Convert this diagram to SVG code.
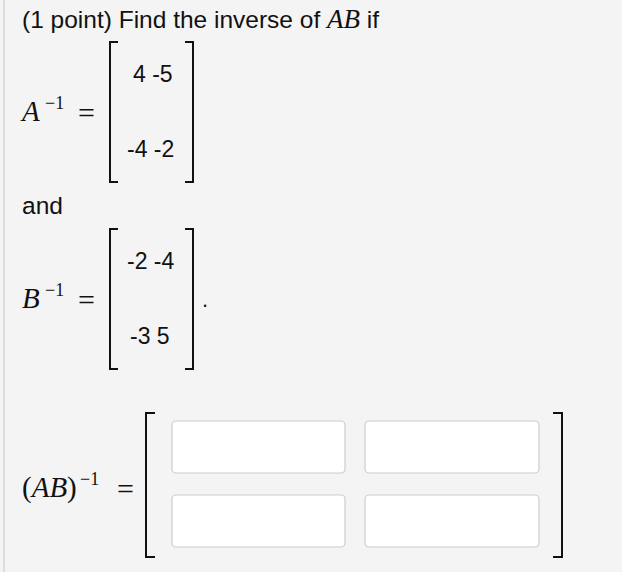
<svg xmlns="http://www.w3.org/2000/svg" width="622" height="572" viewBox="0 0 622 572">
<defs>
<style>
.b{fill:none;stroke:#111;stroke-width:2}
.box{fill:#fff;stroke:#ccc;stroke-width:1.2}
</style>
</defs>
<rect width="622" height="572" fill="#f4f4f4"/>
<line x1="4" y1="0" x2="4" y2="572" stroke="#ddd" stroke-width="2"/>
<g font-family="Liberation Sans, Arial, sans-serif" font-size="24.5" fill="#111">
<text x="22" y="28">(1 point) Find the inverse of <tspan font-family="Liberation Serif, serif" font-style="italic" font-size="27">AB</tspan> if</text>
<text x="22" y="214">and</text>
</g>
<g id="matA" fill="#111">
<text x="22" y="121" font-family="Liberation Serif, serif" font-style="italic" font-size="29">A</text>
<text x="45" y="109" font-family="Liberation Serif, serif" font-size="18">−1</text>
<text x="78" y="123" font-family="Liberation Serif, serif" font-size="30">=</text>
<path class="b" d="M118,42 H110 V182 H118 M185,42 H193 V182 H185"/>
<text x="133" y="82" font-family="Liberation Sans, Arial, sans-serif" font-size="23">4 -5</text>
<text x="127" y="157" font-family="Liberation Sans, Arial, sans-serif" font-size="23">-4 -2</text>
</g>
<g id="matB" fill="#111">
<text x="22" y="308" font-family="Liberation Serif, serif" font-style="italic" font-size="29">B</text>
<text x="45" y="296" font-family="Liberation Serif, serif" font-size="18">−1</text>
<text x="78" y="310" font-family="Liberation Serif, serif" font-size="30">=</text>
<path class="b" d="M118,229 H110 V369 H118 M185,229 H193 V369 H185"/>
<text x="127" y="269" font-family="Liberation Sans, Arial, sans-serif" font-size="23">-2 -4</text>
<text x="130" y="344" font-family="Liberation Sans, Arial, sans-serif" font-size="23">-3 5</text>
<text x="202" y="307" font-family="Liberation Sans, Arial, sans-serif" font-size="22">.</text>
</g>
<g id="matAB" fill="#111">
<text x="22" y="497" font-family="Liberation Serif, serif" font-size="29">(<tspan font-style="italic">AB</tspan>)</text>
<text x="80" y="485" font-family="Liberation Serif, serif" font-size="18">−1</text>
<text x="117" y="499" font-family="Liberation Serif, serif" font-size="30">=</text>
<path class="b" d="M155,413 H146 V557 H155 M553,413 H562 V557 H553"/>
<rect class="box" x="172" y="421" width="173" height="52" rx="4"/>
<rect class="box" x="365" y="421" width="174" height="52" rx="4"/>
<rect class="box" x="172" y="495" width="173" height="52" rx="4"/>
<rect class="box" x="365" y="495" width="174" height="52" rx="4"/>
</g>
</svg>
